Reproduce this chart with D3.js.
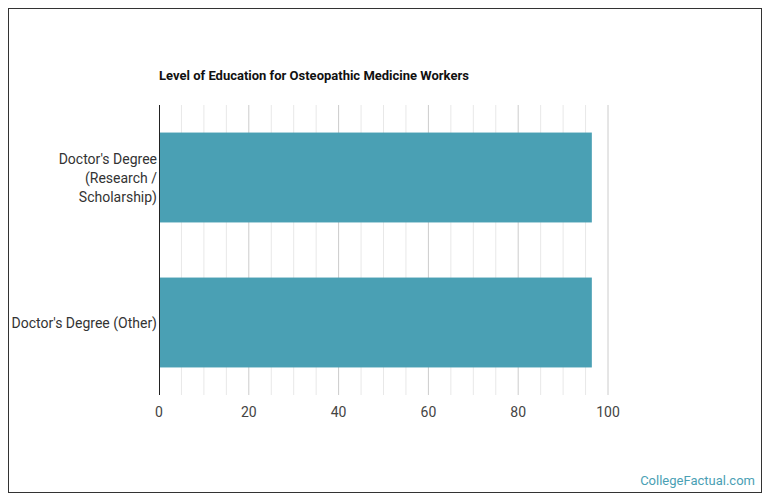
<!DOCTYPE html><html><head><script src="https://cdn.jsdelivr.net/npm/d3@7"></script>
<style>body{margin:0;background:#fff}</style></head><body><svg id="c" width="770" height="503"></svg>
<script>
const categories=[["Doctor's Degree","(Research /","Scholarship)"],["Doctor's Degree (Other)"]];
const values=[96.4,96.4];
const tickValues=[0,20,40,60,80,100];
const svg=d3.select("#c");
svg.append("rect").attr("x",8.5).attr("y",8.5).attr("width",753).attr("height",484).attr("fill","#fff").attr("stroke","#333");
const x=d3.scaleLinear().domain([0,100]).range([159,608]);
const y=d3.scaleBand().domain(d3.range(values.length)).range([105,395]).paddingInner(0.38).paddingOuter(0.19);
svg.selectAll(".g").data(d3.range(5,101,5)).enter().append("line").attr("x1",d=>x(d)).attr("x2",d=>x(d)).attr("y1",105).attr("y2",395)
 .attr("stroke",d=>d%20===0?"#ccc":"#e8e8e8").attr("stroke-width",1);
svg.selectAll(".b").data(values).enter().append("rect").attr("x",x(0)).attr("y",(d,i)=>y(i)).attr("width",d=>x(d)-x(0)).attr("height",y.bandwidth()).attr("fill","#4aa0b4");
svg.append("line").attr("x1",159.5).attr("x2",159.5).attr("y1",105).attr("y2",395).attr("stroke","#222");
svg.selectAll(".t").data(tickValues).enter().append("text").attr("x",d=>x(d)).attr("y",417).attr("text-anchor","middle")
 .attr("font-family","Roboto").attr("font-size",14).attr("fill","#444").text(d=>d);
categories.forEach((lines,i)=>{const cy=y(i)+y.bandwidth()/2;const n=lines.length;
 lines.forEach((l,j)=>svg.append("text").attr("x",157).attr("y",cy+(j-(n-1)/2)*19+5).attr("text-anchor","end")
 .attr("font-family","Roboto").attr("font-size",14).attr("fill","#333").text(l));});
svg.append("text").attr("x",159).attr("y",80).attr("font-family","Roboto").attr("font-weight","bold").attr("font-size",13).attr("fill","#111").text("Level of Education for Osteopathic Medicine Workers");
svg.append("text").attr("x",755).attr("y",485).attr("text-anchor","end").attr("font-family","Roboto").attr("font-size",13).attr("fill","#4aa0b4").text("CollegeFactual.com");
</script></body></html>
